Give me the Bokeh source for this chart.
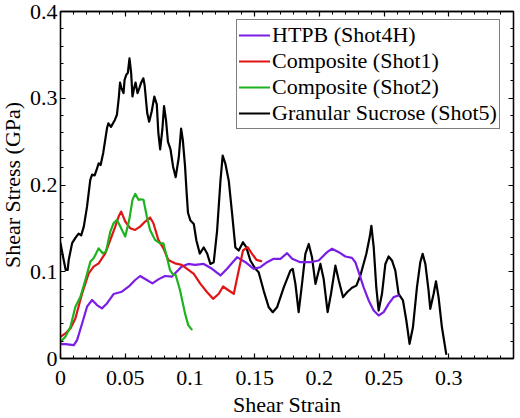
import math
from bokeh.plotting import figure
from bokeh.models import (Range1d, LinearAxis, FixedTicker, NumeralTickFormatter,
                          Legend, LegendItem, Label)
from bokeh.embed import file_html
from bokeh.resources import INLINE

# ---------------- data ----------------
htpb_strain = [0, 0.0038, 0.0103, 0.0128, 0.0167, 0.0205, 0.0244, 0.0282, 0.032, 0.0359,
               0.041, 0.0474, 0.0526, 0.0577, 0.0615, 0.0667, 0.071, 0.0756, 0.0808, 0.0859,
               0.0897, 0.0936, 0.0987, 0.1038, 0.1107, 0.1171, 0.1236, 0.1287, 0.1364, 0.1429,
               0.1493, 0.1544, 0.1596, 0.1647, 0.1699, 0.1751, 0.179, 0.1853, 0.193, 0.1995,
               0.206, 0.2098, 0.215, 0.2201, 0.2252, 0.2278, 0.2304, 0.2342, 0.2381, 0.242,
               0.2458, 0.2497, 0.2535, 0.2574, 0.2612]
htpb_stress = [0.0166, 0.0166, 0.0154, 0.0212, 0.0404, 0.0597, 0.0674, 0.0616, 0.0578, 0.0635,
               0.0743, 0.077, 0.0828, 0.0905, 0.0951, 0.0905, 0.0866, 0.0912, 0.0951, 0.0943,
               0.1001, 0.1059, 0.109, 0.108, 0.109, 0.1034, 0.0957, 0.1034, 0.1168, 0.111,
               0.1034, 0.1052, 0.111, 0.1149, 0.1149, 0.1214, 0.1149, 0.111, 0.111, 0.113,
               0.1226, 0.1265, 0.1226, 0.1176, 0.116, 0.111, 0.0995, 0.082, 0.0669, 0.0553,
               0.0496, 0.0534, 0.063, 0.0707, 0.0726]

shot1_strain = [0, 0.0038, 0.0077, 0.0115, 0.0167, 0.0218, 0.0256, 0.0295, 0.0346, 0.0385,
                0.0423, 0.0449, 0.0469, 0.05, 0.0538, 0.0577, 0.0615, 0.0654, 0.0692, 0.0718,
                0.0756, 0.0795, 0.0833, 0.0885, 0.0936, 0.0978, 0.103, 0.1081, 0.1133, 0.1179,
                0.1223, 0.1256, 0.13, 0.1339, 0.1377, 0.141, 0.1446, 0.148, 0.1514, 0.155]
shot1_stress = [0.025, 0.0289, 0.0347, 0.0462, 0.0751, 0.0982, 0.1059, 0.1097, 0.1213, 0.1367,
                0.152, 0.1636, 0.1694, 0.1579, 0.1502, 0.1482, 0.152, 0.1579, 0.1625, 0.1559,
                0.1367, 0.127, 0.1136, 0.1097, 0.108, 0.1034, 0.0976, 0.086, 0.0764, 0.0688,
                0.0746, 0.083, 0.0784, 0.0746, 0.1014, 0.1245, 0.1283, 0.1207, 0.1137, 0.1122]

shot2_strain = [0, 0.0038, 0.0077, 0.0115, 0.0154, 0.0192, 0.0231, 0.0256, 0.0295, 0.0326,
                0.0351, 0.0385, 0.041, 0.0436, 0.0462, 0.05, 0.0531, 0.0556, 0.0577, 0.0603,
                0.0623, 0.0641, 0.0667, 0.0692, 0.0731, 0.0769, 0.0795, 0.0821, 0.0846, 0.0872,
                0.089, 0.0923, 0.0962, 0.0987, 0.1013]
shot2_stress = [0.0193, 0.025, 0.0366, 0.0597, 0.0712, 0.0905, 0.1117, 0.1155, 0.127, 0.1213,
                0.1232, 0.1463, 0.156, 0.1598, 0.1521, 0.1405, 0.1598, 0.1829, 0.1898, 0.1829,
                0.1836, 0.1829, 0.1636, 0.1482, 0.1367, 0.1328, 0.1328, 0.1174, 0.102, 0.0963,
                0.0963, 0.0789, 0.052, 0.0385, 0.0335]

sucrose_strain = [0, 0.002, 0.004, 0.0055, 0.0064, 0.009, 0.0115, 0.014, 0.016, 0.018,
                  0.0205, 0.023, 0.0244, 0.0264, 0.028, 0.0295, 0.031, 0.033, 0.036, 0.037,
                  0.039, 0.042, 0.0436, 0.045, 0.046, 0.047, 0.0487, 0.0495, 0.0508, 0.052,
                  0.0533, 0.0546, 0.0556, 0.0569, 0.058, 0.0595, 0.061, 0.0623, 0.064, 0.065,
                  0.067, 0.0685, 0.0705, 0.0725, 0.0744, 0.0756, 0.077, 0.0787, 0.08, 0.0815,
                  0.083, 0.085, 0.087, 0.089, 0.0914, 0.0932, 0.0945, 0.0962, 0.0975, 0.0985,
                  0.1004, 0.103, 0.105, 0.1076, 0.1107, 0.1133, 0.1158, 0.1184, 0.121, 0.1236,
                  0.1253, 0.1274, 0.13, 0.1326, 0.1351, 0.1377, 0.141, 0.1436, 0.1467, 0.1506,
                  0.1531, 0.157, 0.1609, 0.164, 0.1673, 0.1725, 0.1776, 0.1794, 0.1815, 0.184,
                  0.1866, 0.1892, 0.1918, 0.1943, 0.197, 0.2008, 0.2033, 0.2064, 0.209, 0.2124,
                  0.215, 0.2183, 0.2214, 0.2252, 0.2286, 0.2317, 0.2363, 0.2389, 0.2402, 0.242,
                  0.244, 0.2458, 0.2484, 0.251, 0.2535, 0.2561, 0.2587, 0.2612, 0.2646, 0.2672,
                  0.2697, 0.2723, 0.2754, 0.278, 0.2798, 0.2819, 0.2844, 0.2857, 0.2883, 0.2901,
                  0.2921, 0.2947, 0.298]
sucrose_stress = [0.133, 0.117, 0.102, 0.102, 0.114, 0.133, 0.139, 0.144, 0.142, 0.152,
                  0.175, 0.206, 0.212, 0.211, 0.218, 0.225, 0.223, 0.237, 0.266, 0.271,
                  0.267, 0.275, 0.281, 0.300, 0.318, 0.312, 0.306, 0.321, 0.327, 0.329,
                  0.346, 0.329, 0.302, 0.312, 0.318, 0.306, 0.312, 0.318, 0.323, 0.315,
                  0.283, 0.273, 0.285, 0.302, 0.293, 0.260, 0.241, 0.264, 0.291, 0.275,
                  0.250, 0.241, 0.221, 0.209, 0.232, 0.265, 0.252, 0.222, 0.19, 0.168,
                  0.159, 0.155, 0.136, 0.121, 0.128, 0.121, 0.109, 0.111, 0.1475, 0.205,
                  0.234, 0.2244, 0.205, 0.1668, 0.128, 0.1245, 0.134, 0.128, 0.113, 0.1034,
                  0.0995, 0.078, 0.059, 0.0534, 0.059, 0.082, 0.1014, 0.1034, 0.086, 0.0534,
                  0.086, 0.1207, 0.132, 0.1168, 0.086, 0.109, 0.092, 0.0534, 0.0746, 0.107,
                  0.090, 0.0707, 0.0764, 0.0815, 0.084, 0.0957, 0.1207, 0.14, 0.153, 0.128,
                  0.082, 0.0553, 0.0746, 0.109, 0.1176, 0.113, 0.1014, 0.0746, 0.0669, 0.0438,
                  0.0169, 0.036, 0.082, 0.111, 0.1207, 0.109, 0.078, 0.0573, 0.0746, 0.089,
                  0.0707, 0.036, 0.0054]

series_names = ["HTPB (Shot4H)", "Composite (Shot1)", "Composite (Shot2)",
                "Granular Sucrose (Shot5)"]
x_ticks = [0, 0.05, 0.1, 0.15, 0.2, 0.25, 0.3]
y_ticks = [0, 0.1, 0.2, 0.3, 0.4]
x_minor = [i / 100 for i in range(0, 36)]
y_minor = [i / 50 for i in range(0, 21)]
x_label = "Shear Strain"
y_label = "Shear Stress (GPa)"

# ---------------- styling ----------------
FONT = "Liberation Serif"
colors = ["#7a1ee6", "#e01515", "#1fb21f", "#000000"]

W, H = 520, 418
ML, MR, MT, MB = 60, 7, 11, 60

p = figure(width=W, height=H, output_backend="svg", toolbar_location=None,
           x_range=Range1d(0, 0.35), y_range=Range1d(0, 0.4),
           x_axis_location=None, y_axis_location=None,
           min_border_left=ML, min_border_right=MR, min_border_top=MT,
           min_border_bottom=MB)
p.xgrid.visible = False
p.ygrid.visible = False
p.outline_line_color = "black"
p.outline_line_width = 1.3
p.background_fill_color = "white"
p.border_fill_color = "white"


def make_axis(ticks, minor, show_labels):
    ax = LinearAxis(ticker=FixedTicker(ticks=ticks, minor_ticks=minor),
                    formatter=NumeralTickFormatter(format="0.[00]"))
    ax.axis_line_color = "black"
    ax.axis_line_width = 1.3
    ax.major_tick_in = 5
    ax.major_tick_out = 0
    ax.minor_tick_in = 3
    ax.minor_tick_out = 0
    ax.major_tick_line_width = 1.2
    ax.minor_tick_line_width = 1.0
    ax.major_label_text_font = FONT
    if show_labels:
        ax.major_label_text_font_size = "22px"
        ax.major_label_text_color = "black"
    else:
        ax.major_label_text_font_size = "1px"
        ax.major_label_text_color = None
        ax.major_label_standoff = 0
    return ax


xb = make_axis(x_ticks, x_minor, True)
xb.major_label_standoff = 12
yl = make_axis(y_ticks, y_minor, True)
yl.major_label_standoff = 3
xt = make_axis(x_ticks, x_minor, False)
yr = make_axis(y_ticks, y_minor, False)
p.add_layout(xb, "below")
p.add_layout(yl, "left")
p.add_layout(xt, "above")
p.add_layout(yr, "right")

data = [(htpb_strain, htpb_stress), (shot1_strain, shot1_stress),
        (shot2_strain, shot2_stress), (sucrose_strain, sucrose_stress)]
renderers = {}
for i in [3, 0, 1, 2]:
    xs, ys = data[i]
    renderers[i] = p.line(xs, ys, line_color=colors[i], line_width=2.2,
                          line_join="round", line_cap="round")

legend = Legend(items=[LegendItem(label=series_names[i], renderers=[renderers[i]])
                       for i in range(4)])
legend.location = (176, 229)
legend.margin = 0
legend.padding = 2
legend.spacing = -4
legend.glyph_width = 31
legend.glyph_height = 20
legend.label_height = 20
legend.label_standoff = 2
legend.label_text_font = FONT
legend.label_text_font_size = "22px"
legend.label_text_color = "black"
legend.border_line_color = "black"
legend.border_line_width = 1.2
legend.background_fill_color = "white"
legend.background_fill_alpha = 1.0
p.add_layout(legend)

# axis titles placed in the side panels (outside the plotting frame)
frame_w = W - ML - MR
frame_h = H - MT - MB
p.add_layout(Label(x=frame_w / 2, y=8, x_units="screen", y_units="screen",
                   text=x_label, text_font=FONT, text_font_size="22px",
                   text_align="center", text_baseline="middle", text_color="black"),
             "below")
p.add_layout(Label(x=11, y=frame_h / 2, x_units="screen", y_units="screen",
                   text=y_label, text_font=FONT, text_font_size="22px",
                   angle=math.pi / 2, text_align="center", text_baseline="middle",
                   text_color="black"),
             "left")

open("out.html", "w").write(file_html(p, INLINE))
